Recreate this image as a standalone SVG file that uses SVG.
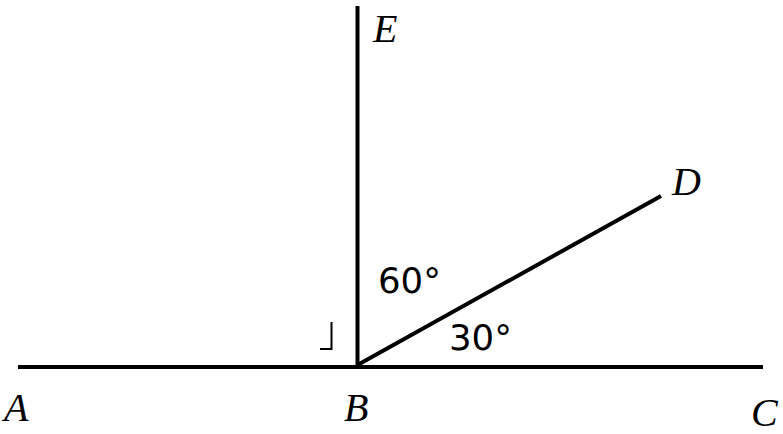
<svg xmlns="http://www.w3.org/2000/svg" width="783" height="434" viewBox="0 0 783 434">
<style>
.ln{stroke:#000;stroke-width:4;fill:none;stroke-linecap:butt}
.pt{font-family:"Liberation Serif","DejaVu Serif",serif;font-style:italic;font-size:40px;fill:#000}
.ang{font-family:"DejaVu Sans","Liberation Sans",sans-serif;font-size:35.5px;fill:#000}
</style>
<rect width="783" height="434" fill="#fff"/>
<g id="connectors">
<line class="ln" x1="18" y1="367" x2="763" y2="367"/>
<line class="ln" x1="357.5" y1="6" x2="357.5" y2="367"/>
<line class="ln" x1="357.5" y1="365" x2="661" y2="196"/>
<polyline points="331.5,322 331.5,349 320,349" fill="none" stroke="#000" stroke-width="2"/>
</g>
<g id="A"><text class="pt" x="4" y="421">A</text></g>
<g id="B"><text class="pt" x="344" y="421">B</text></g>
<g id="C"><text class="pt" x="751" y="426">C</text></g>
<g id="D"><text class="pt" x="672" y="195">D</text></g>
<g id="E"><text class="pt" x="373" y="42">E</text></g>
<g id="angle60"><text class="ang" x="378" y="293">60°</text></g>
<g id="angle30"><text class="ang" x="449" y="350">30°</text></g>
</svg>
